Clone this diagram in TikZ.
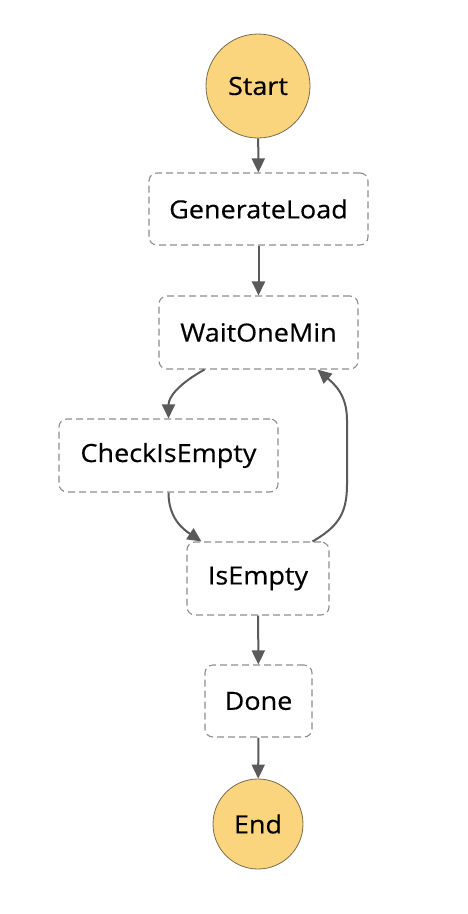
\documentclass[tikz,border=0pt]{standalone}
\usepackage{fontspec}
\setmainfont{Open Sans}[FakeStretch=1.08,FakeBold=0.4]
\usetikzlibrary{arrows.meta}
\definecolor{termfill}{HTML}{FBD57E}
\definecolor{termline}{HTML}{7A6A4F}
\definecolor{boxline}{HTML}{8E8E8E}
\definecolor{arrowcol}{HTML}{5A5A5A}
\tikzset{
  term/.style={circle, draw=termline, line width=0.8pt, fill=termfill, inner sep=0pt, font=\fontsize{25}{29}\selectfont},
  statebox/.style={draw=boxline, line width=1.1pt, dash pattern=on 7pt off 4pt, rounded corners=8pt, fill=white, inner sep=0pt, font=\fontsize{25}{29}\selectfont},
  flow/.style={draw=arrowcol, line width=2pt, -{Triangle[length=14pt,width=13pt]}}
}
\begin{document}
\begin{tikzpicture}[x=1pt,y=-1pt]
\useasboundingbox (0,0) rectangle (468,914);
\node[term, minimum size=104pt] (start) at (258,86) {Start};
\node[statebox, minimum width=219pt, minimum height=72pt] (gen) at (258.5,209) {GenerateLoad};
\node[statebox, minimum width=199pt, minimum height=73pt] (wait) at (258.5,332.5) {WaitOneMin};
\node[statebox, minimum width=219pt, minimum height=73pt] (check) at (168.5,455.5) {CheckIsEmpty};
\node[statebox, minimum width=142pt, minimum height=73pt] (isempty) at (258,578.5) {IsEmpty};
\node[statebox, minimum width=107pt, minimum height=72pt] (done) at (258.5,701) {Done};
\node[term, minimum size=90pt] (end) at (258,824) {End};
\coordinate (loopA) at (347,485);
\coordinate (loopB) at (347,420);

\draw[flow] (start) -- (gen);
\draw[flow] (gen) -- (wait);
\draw[flow] ([xshift=46pt]wait.south west) .. controls +(-25,14) and +(0,-22) .. (check.north);
\draw[flow] (check.south) .. controls +(0,26) and +(-18,-12) .. ([xshift=15pt]isempty.north west);
\draw[flow] ([xshift=-17pt]isempty.north east) .. controls +(24,-14) and +(0,30) .. (loopA)
  -- (loopB) .. controls +(0,-26) and +(16,14) .. ([xshift=-41pt]wait.south east);
\draw[flow] (isempty) -- (done);
\draw[flow] (done) -- (end);
\end{tikzpicture}
\end{document}
